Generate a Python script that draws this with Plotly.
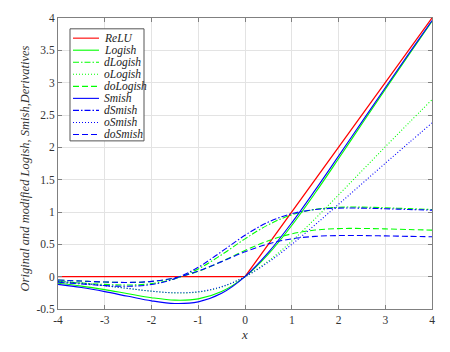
import plotly.graph_objects as go

x = [-4, -3.5, -3, -2.5, -2, -1.5, -1, -0.5, 0, 0.5, 1, 1.5, 2, 2.5, 3, 3.5, 4]
relu_x = [-4, 0, 4]
relu_y = [0, 0, 4]

logish = [-0.1029, -0.1459, -0.2005, -0.2637, -0.3249, -0.3627, -0.3436, -0.2311, 0.0,
          0.3491, 0.7917, 1.2931, 1.8227, 2.3605, 2.8961, 3.4254, 3.9479]
dlogish = [-0.0744, -0.0979, -0.1198, -0.1295, -0.1082, -0.0312, 0.1201, 0.3390, 0.5850,
           0.8027, 0.9555, 1.0396, 1.0724, 1.0756, 1.0655, 1.0516, 1.0384]
ologish = [-0.0713, -0.1011, -0.1390, -0.1828, -0.2252, -0.2514, -0.2382, -0.1602, 0.0,
           0.2420, 0.5487, 0.8963, 1.2634, 1.6362, 2.0074, 2.3743, 2.7365]
dologish = [-0.0516, -0.0679, -0.0831, -0.0898, -0.0750, -0.0216, 0.0832, 0.2350, 0.4055,
            0.5564, 0.6623, 0.7206, 0.7433, 0.7456, 0.7386, 0.7289, 0.7198]
smish = [-0.1188, -0.1685, -0.2315, -0.3041, -0.3738, -0.4151, -0.3896, -0.2582, 0.0,
         0.3745, 0.8326, 1.3382, 1.8641, 2.3945, 2.9221, 3.4444, 3.9613]
dsmish = [-0.0859, -0.1130, -0.1380, -0.1484, -0.1219, -0.0300, 0.1455, 0.3878, 0.6410,
          0.8453, 0.9747, 1.0385, 1.0599, 1.0595, 1.0502, 1.0390, 1.0288]
osmish = [-0.0713, -0.1011, -0.1389, -0.1825, -0.2243, -0.2490, -0.2338, -0.1549, 0.0,
          0.2247, 0.4996, 0.8029, 1.1184, 1.4367, 1.7533, 2.0666, 2.3768]
dosmish = [-0.0516, -0.0678, -0.0828, -0.0890, -0.0731, -0.0180, 0.0873, 0.2327, 0.3846,
           0.5072, 0.5848, 0.6231, 0.6360, 0.6357, 0.6301, 0.6234, 0.6172]

x_ticks = [-4, -3, -2, -1, 0, 1, 2, 3, 4]
x_tick_labels = ["-4", "-3", "-2", "-1", "0", "1", "2", "3", "4"]
y_ticks = [-0.5, 0, 0.5, 1, 1.5, 2, 2.5, 3, 3.5, 4]
y_tick_labels = ["-0.5", "0", "0.5", "1", "1.5", "2", "2.5", "3", "3.5", "4"]

RED = "#FF0000"
GREEN = "#00FF00"
BLUE = "#0000FF"
DASHES = {"solid": "solid", "dashdot": "6px,2px,1.5px,2px", "dot": "1px,2px", "dash": "6px,3px"}
LW = 1.1

series = [
    ("ReLU", relu_x, relu_y, RED, "solid"),
    ("Logish", x, logish, GREEN, "solid"),
    ("dLogish", x, dlogish, GREEN, "dashdot"),
    ("oLogish", x, ologish, GREEN, "dot"),
    ("doLogish", x, dologish, GREEN, "dash"),
    ("Smish", x, smish, BLUE, "solid"),
    ("dSmish", x, dsmish, BLUE, "dashdot"),
    ("oSmish", x, osmish, BLUE, "dot"),
    ("doSmish", x, dosmish, BLUE, "dash"),
]

fig = go.Figure()
for name, xs, ys, col, dash in series:
    shape = "linear" if name == "ReLU" else "spline"
    fig.add_trace(go.Scatter(x=xs, y=ys, name=name, mode="lines", showlegend=False,
                             line=dict(color=col, width=1.3 if name == "ReLU" else LW,
                                       dash=DASHES[dash], shape=shape, smoothing=1.0)))

# manual legend (compact like MATLAB)
W_PX, H_PX, L_PX, T_PX = 374.0, 296.0, 58.0, 15.0
def px_to_paper(px, py):
    return (px - L_PX) / W_PX, 1 - (py - T_PX) / H_PX

bx0, by0 = px_to_paper(70, 26)
bx1, by1 = px_to_paper(144, 140)
fig.add_shape(type="rect", xref="paper", yref="paper", x0=bx0, x1=bx1, y0=by1, y1=by0,
              fillcolor="white", line=dict(color="#555555", width=1), layer="above")
for i, (name, xs, ys, col, dash) in enumerate(series):
    cy = 35.5 + 12.25 * i
    lx0, ly = px_to_paper(73, cy)
    lx1, _ = px_to_paper(99, cy)
    tx, _ = px_to_paper(102, cy)
    fig.add_shape(type="line", xref="paper", yref="paper", x0=lx0, x1=lx1, y0=ly, y1=ly,
                  line=dict(color=col, width=LW, dash=DASHES[dash]), layer="above")
    fig.add_annotation(xref="paper", yref="paper", x=tx, y=ly, text=name, showarrow=False,
                       xanchor="left", yanchor="middle",
                       font=dict(family="Liberation Serif", size=11.5, color="#222222", style="italic"))

# y-axis title
tx, ty = px_to_paper(25, 168)
fig.add_annotation(xref="paper", yref="paper", x=tx, y=ty, textangle=-90, showarrow=False,
                   text="Original and modified Logish, Smish,Derivatives",
                   xanchor="center", yanchor="middle",
                   font=dict(family="Liberation Serif", size=12.5, color="#333333", style="italic"))

axis_common = dict(showgrid=True, gridcolor="#e3e3e3", gridwidth=1,
                   showline=True, linecolor="#808080", linewidth=1, mirror="ticks",
                   ticks="inside", ticklen=4, tickcolor="#808080",
                   zeroline=False,
                   tickfont=dict(family="Liberation Serif", size=11.5, color="#333333"))

fig.update_xaxes(range=[-4, 4], tickvals=x_ticks, ticktext=x_tick_labels,
                 title=dict(text="x", font=dict(family="Liberation Serif", size=13, color="#333333",
                                                style="italic"),
                            standoff=5),
                 **axis_common)
fig.update_yaxes(range=[-0.5, 4], tickvals=y_ticks, ticktext=y_tick_labels, **axis_common)

fig.update_layout(
    width=450, height=352,
    margin=dict(l=58, r=18, t=15, b=41),
    paper_bgcolor="white", plot_bgcolor="white",
    showlegend=False,
)
fig.write_html("out.html")
